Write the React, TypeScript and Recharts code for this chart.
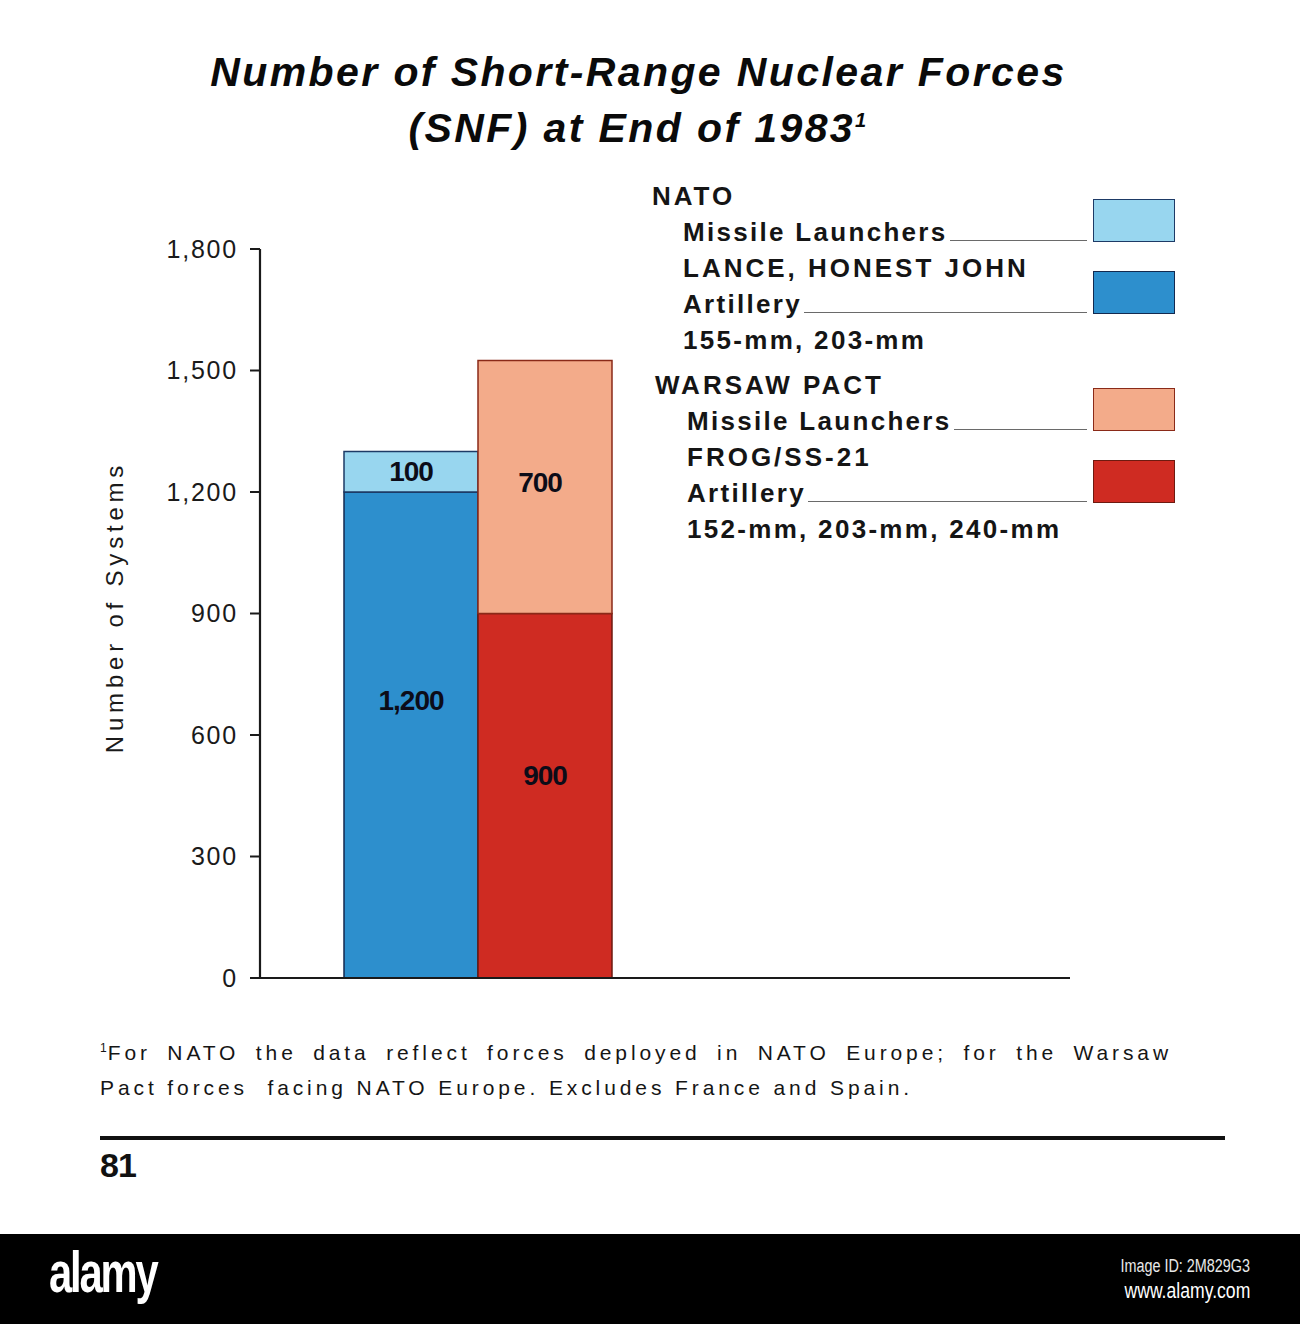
import React from 'react';
import { BarChart, Bar, XAxis, YAxis, Legend, LabelList } from 'recharts';

// ---- data ----
const categories = ['NATO', 'Warsaw Pact'];
const natoArtillery = [1200, null];
const natoMissile = [100, null];
const wpArtillery = [null, 900];
const wpMissile = [null, 625]; // drawn height (printed label says 700)
const segmentLabels: Record<string, string> = {
  natoArtillery: '1,200',
  natoMissile: '100',
  wpArtillery: '900',
  wpMissile: '700',
};
const yTicks = [0, 300, 600, 900, 1200, 1500, 1800];

const data = categories.map((c, i) => ({
  category: c,
  natoArtillery: natoArtillery[i],
  natoMissile: natoMissile[i],
  wpArtillery: wpArtillery[i],
  wpMissile: wpMissile[i],
}));

const FONT = '"Liberation Sans", Arial, Helvetica, sans-serif';

const COLORS: Record<string, { fill: string; stroke: string }> = {
  natoMissile: { fill: '#98d6ef', stroke: '#1d3a66' },
  natoArtillery: { fill: '#2d8fcd', stroke: '#13294f' },
  wpMissile: { fill: '#f3ab8a', stroke: '#8a2a18' },
  wpArtillery: { fill: '#cf2b22', stroke: '#6e1a10' },
};

const labelOffsets: Record<string, { dx: number; dy: number }> = {
  natoArtillery: { dx: 0, dy: -35 },
  natoMissile: { dx: 0, dy: 0 },
  wpArtillery: { dx: 0, dy: -20 },
  wpMissile: { dx: -5, dy: -4 },
};

const makeLabel = (key: string) => (props: any) => {
  const { x, y, width, height } = props;
  if (!(Number(height) > 0)) return null;
  const off = labelOffsets[key];
  return (
    <text
      x={Number(x) + Number(width) / 2 + off.dx}
      y={Number(y) + Number(height) / 2 + off.dy}
      textAnchor="middle"
      dominantBaseline="central"
      fontFamily={FONT}
      fontWeight="bold"
      fontSize={28}
      letterSpacing={-1}
      fill="#0c0c18"
    >
      {segmentLabels[key]}
    </text>
  );
};

const legendRows = [
  { kind: 'header', text: 'NATO', indent: 0, gap: 0 },
  { kind: 'item', text: 'Missile Launchers', key: 'natoMissile', indent: 31, gap: 0 },
  { kind: 'sub', text: 'LANCE, HONEST JOHN', indent: 31, gap: 0 },
  { kind: 'item', text: 'Artillery', key: 'natoArtillery', indent: 31, gap: 0 },
  { kind: 'sub', text: '155-mm, 203-mm', indent: 31, gap: 0 },
  { kind: 'header', text: 'WARSAW PACT', indent: 3, gap: 9 },
  { kind: 'item', text: 'Missile Launchers', key: 'wpMissile', indent: 35, gap: 0 },
  { kind: 'sub', text: 'FROG/SS-21', indent: 35, gap: 0 },
  { kind: 'item', text: 'Artillery', key: 'wpArtillery', indent: 35, gap: 0 },
  { kind: 'sub', text: '152-mm, 203-mm, 240-mm', indent: 35, gap: 0 },
];

const LegendContent = (props: any) => {
  const payload: any[] = props.payload || [];
  const colorFor = (k: string) => {
    const p = payload.find((e) => e.dataKey === k);
    return p ? p.color : COLORS[k].fill;
  };
  return (
    <div style={{ width: 523, fontFamily: FONT, color: '#151515' }}>
      {legendRows.map((r, i) => {
        const isCaps = r.text === r.text.toUpperCase() && /[A-Z]/.test(r.text);
        return (
          <div
            key={i}
            style={{
              position: 'relative',
              height: 36,
              lineHeight: '36px',
              marginTop: r.gap,
              paddingLeft: r.indent,
              display: 'flex',
              alignItems: 'baseline',
              fontSize: 26,
              letterSpacing: isCaps ? 3 : 2.3,
              fontWeight: 'bold',
              whiteSpace: 'nowrap',
            }}
          >
            <span>{r.text}</span>
            {r.kind === 'item' && (
              <>
                <span style={{ flex: 1, borderBottom: '1.5px solid #6a6a6a', marginRight: 88, marginLeft: 2 }} />
                <span
                  style={{
                    position: 'absolute',
                    right: 0,
                    bottom: 8,
                    width: 82,
                    height: 43,
                    background: colorFor(r.key as string),
                    border: `1.5px solid ${COLORS[r.key as string].stroke}`,
                    boxSizing: 'border-box',
                  }}
                />
              </>
            )}
          </div>
        );
      })}
    </div>
  );
};

export default function App() {
  return (
    <div style={{ position: 'absolute', left: 0, top: 0, width: 1300, height: 1324, background: '#fff', overflow: 'hidden' }}>
      {/* Title */}
      <div
        style={{
          position: 'absolute',
          left: 0,
          top: 44,
          width: 1277,
          textAlign: 'center',
          fontFamily: FONT,
          fontWeight: 'bold',
          fontStyle: 'italic',
          fontSize: 41,
          letterSpacing: 2.4,
          lineHeight: '56px',
          color: '#0a0a0a',
        }}
      >
        <div>Number of Short-Range Nuclear Forces</div>
        <div>
          (SNF) at End of 1983
          <span style={{ fontSize: 20, position: 'relative', top: -15, marginLeft: 0 }}>1</span>
        </div>
      </div>

      {/* Y axis title */}
      <div
        style={{
          position: 'absolute',
          left: 115,
          top: 607,
          transform: 'translate(-50%, -50%) rotate(-90deg)',
          whiteSpace: 'nowrap',
          fontFamily: FONT,
          fontSize: 24,
          letterSpacing: 4.8,
          color: '#1a1a1a',
        }}
      >
        Number of Systems
      </div>

      <BarChart
        width={1300}
        height={1324}
        data={data}
        margin={{ top: 249, right: 230, bottom: 345, left: 160 }}
        barCategoryGap={0}
        barGap={0}
      >
        <XAxis
          dataKey="category"
          tick={false}
          tickLine={false}
          height={1}
          padding={{ left: 84, right: 458 }}
          axisLine={{ stroke: '#1a1a1a', strokeWidth: 2.2 }}
        />
        <YAxis
          width={100}
          domain={[0, 1800]}
          ticks={yTicks}
          interval={0}
          tickFormatter={(v: number) => v.toLocaleString('en-US')}
          tick={{ fill: '#1a1a1a', fontSize: 25, fontFamily: FONT, letterSpacing: 1.8 }}
          tickSize={10}
          tickMargin={12}
          tickLine={{ stroke: '#1a1a1a', strokeWidth: 2 }}
          axisLine={{ stroke: '#1a1a1a', strokeWidth: 2.2 }}
        />
        <Legend
          layout="horizontal"
          verticalAlign="middle"
          align="center"
          content={<LegendContent />}
          wrapperStyle={{ position: 'absolute', left: 652, top: 178, width: 523 }}
        />
        {['natoArtillery', 'natoMissile', 'wpArtillery', 'wpMissile'].map((k) => (
          <Bar
            key={k}
            dataKey={k}
            stackId="s"
            fill={COLORS[k].fill}
            stroke={COLORS[k].stroke}
            strokeWidth={1.5}
            isAnimationActive={false}
          >
            <LabelList dataKey={k} content={makeLabel(k)} />
          </Bar>
        ))}
      </BarChart>

      {/* Footnote */}
      <div
        style={{
          position: 'absolute',
          left: 100,
          top: 1037,
          width: 1072,
          fontFamily: FONT,
          fontSize: 21,
          letterSpacing: 3.9,
          lineHeight: '31px',
          color: '#151515',
          whiteSpace: 'pre',
        }}
      >
        <div style={{ textAlign: 'justify', textAlignLast: 'justify', whiteSpace: 'normal' }}>
          <span style={{ fontSize: 12, position: 'relative', top: -8, marginRight: 0, letterSpacing: 1 }}>1</span>For NATO the data reflect forces deployed in NATO Europe; for the Warsaw
        </div>
        <div>Pact forces  facing NATO Europe. Excludes France and Spain.</div>
      </div>

      {/* Rule and page number */}
      <div style={{ position: 'absolute', left: 100, top: 1136, width: 1125, height: 4, background: '#111' }} />
      <div
        style={{
          position: 'absolute',
          left: 100,
          top: 1148,
          fontFamily: FONT,
          fontWeight: 'bold',
          fontSize: 34,
          lineHeight: '34px',
          letterSpacing: -1,
          color: '#111',
        }}
      >
        81
      </div>

      {/* Bottom band */}
      <div style={{ position: 'absolute', left: 0, top: 1234, width: 1300, height: 90, background: '#000' }}>
        <div
          style={{
            position: 'absolute',
            left: 49,
            top: 9,
            fontFamily: FONT,
            fontWeight: 'bold',
            fontSize: 58,
            lineHeight: '58px',
            letterSpacing: -3,
            color: '#fff',
            transform: 'scaleX(0.72)',
            transformOrigin: 'left center',
          }}
        >
          alamy
        </div>
        <div
          style={{
            position: 'absolute',
            right: 50,
            top: 22,
            fontFamily: FONT,
            fontSize: 18,
            lineHeight: '20px',
            color: '#e8e8e8',
            textAlign: 'right',
            whiteSpace: 'nowrap',
            transform: 'scaleX(0.8)',
            transformOrigin: 'right center',
          }}
        >
          Image ID: 2M829G3
        </div>
        <div
          style={{
            position: 'absolute',
            right: 50,
            top: 45,
            fontFamily: FONT,
            fontSize: 22,
            lineHeight: '24px',
            color: '#fff',
            textAlign: 'right',
            whiteSpace: 'nowrap',
            transform: 'scaleX(0.8)',
            transformOrigin: 'right center',
          }}
        >
          www.alamy.com
        </div>
      </div>
    </div>
  );
}
